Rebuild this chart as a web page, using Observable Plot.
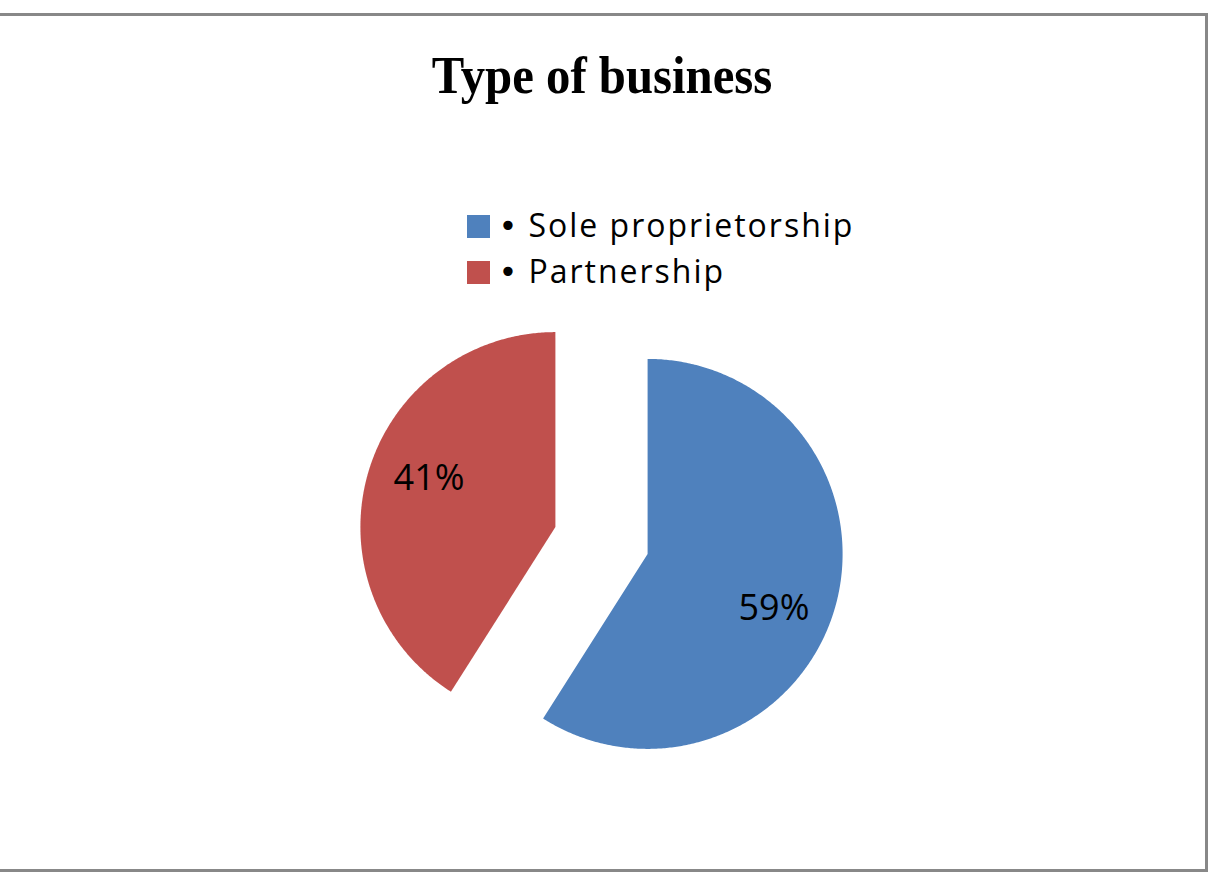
<!DOCTYPE html>
<html><head><meta charset="utf-8">
<script src="https://cdn.jsdelivr.net/npm/d3@7"></script>
<script src="https://cdn.jsdelivr.net/npm/@observablehq/plot@0.6"></script>
<style>
html,body{margin:0;padding:0;background:#fff;width:1220px;height:876px;overflow:hidden;position:relative}
#frame{position:absolute;left:-4px;top:13px;width:1212px;height:859px;border:3px solid #888;box-sizing:border-box;pointer-events:none}
#title{position:absolute;left:0;top:49px;width:1205px;text-align:center;font-family:"Liberation Serif",serif;font-weight:bold;font-size:53px;line-height:53px;color:#000;white-space:nowrap}
#title span{display:inline-block;transform:scaleX(0.92)}
.row{position:absolute;left:467px;height:32px;font-family:"Open Sans",sans-serif;font-size:32px;line-height:32px;letter-spacing:2px;white-space:nowrap;color:#000}
.sw{position:absolute;left:0;top:6.4px;width:23px;height:23px}
.bu{position:absolute;left:31.6px;top:1.3px;font-family:"DejaVu Sans",sans-serif;letter-spacing:0}
.tx{position:absolute;left:61.4px;top:0}
#chart{position:absolute;left:0;top:300px}
</style>
</head><body>
<div id="title"><span>Type of business</span></div>
<div id="legend"></div>
<div id="chart"></div>
<div id="frame"></div>
<script>
const categories = ["Sole proprietorship", "Partnership"];
const values = [59, 41];
const colors = ["#4F81BD", "#C0504D"];
const titleText = "Type of business";

document.querySelector("#title span").textContent = titleText;

// legend built from the arrays
const legend = document.getElementById("legend");
categories.forEach((name, i) => {
  const row = document.createElement("div");
  row.className = "row";
  row.style.top = (208.6 + i * 46.5) + "px";
  const sw = document.createElement("div");
  sw.className = "sw"; sw.style.background = colors[i];
  const bu = document.createElement("span");
  bu.className = "bu"; bu.textContent = "•";
  const tx = document.createElement("span");
  tx.className = "tx"; tx.textContent = name;
  row.append(sw, bu, tx);
  legend.append(row);
});

// pie geometry
const W = 1220, H = 576, cx = 601, cy = 240, R = 195, explode = 48;
const total = d3.sum(values);
let acc = 0;
const pts = [];
const labels = [];
categories.forEach((name, i) => {
  const a0 = acc / total * 2 * Math.PI;
  acc += values[i];
  const a1 = acc / total * 2 * Math.PI;
  const m = (a0 + a1) / 2;
  const ox = cx + explode * Math.sin(m), oy = cy - explode * Math.cos(m);
  pts.push({name, x: ox, y: oy});
  const n = Math.max(2, Math.ceil((a1 - a0) / (Math.PI / 360)));
  for (let k = 0; k <= n; k++) {
    const a = a0 + (a1 - a0) * k / n;
    pts.push({name, x: ox + R * Math.sin(a), y: oy - R * Math.cos(a)});
  }
  pts.push({name, x: ox, y: oy});
  const la = m + 6 * Math.PI / 180;
  labels.push({name, x: ox + 0.70 * R * Math.sin(la), y: oy - 0.70 * R * Math.cos(la) + 3,
    text: Math.round(values[i] / total * 100) + "%"});
});

const chart = Plot.plot({
  width: W, height: H, margin: 0,
  style: {background: "transparent", overflow: "visible"},
  x: {domain: [0, W], range: [0, W], axis: null},
  y: {domain: [0, H], range: [0, H], axis: null},
  color: {domain: categories, range: colors},
  marks: [
    Plot.line(pts, {x: "x", y: "y", z: "name", fill: "name", stroke: "none", curve: "linear"}),
    Plot.text(labels, {x: "x", y: "y", text: "text", fontSize: 36, fontFamily: "Open Sans", fill: "#000"})
  ]
});
document.getElementById("chart").append(chart);
</script>
</body></html>
